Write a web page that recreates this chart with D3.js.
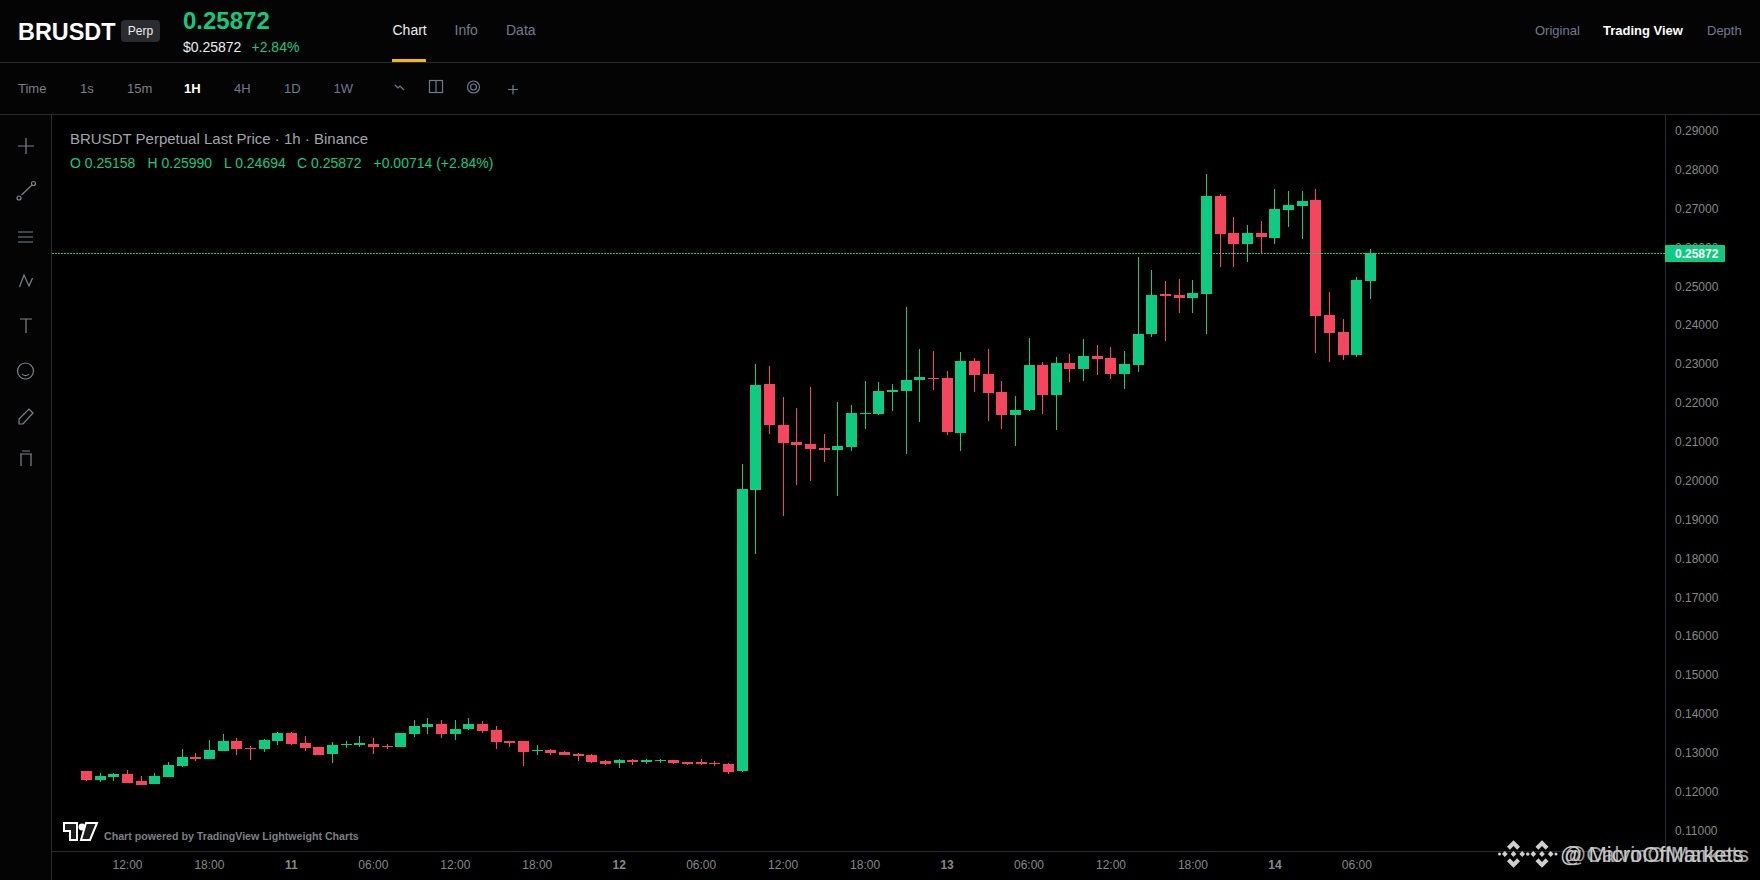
<!DOCTYPE html>
<html><head><meta charset="utf-8">
<script src="https://cdn.jsdelivr.net/npm/d3@7/dist/d3.min.js"></script>
<style>
html,body{margin:0;padding:0;background:#040405;overflow:hidden}
svg{display:block}
text{font-family:"Liberation Sans",Arial,sans-serif}
</style></head><body>
<svg id="c" width="1760" height="880"></svg>
<script>
const opens=[.12557,.12325,.12403,.12480,.12300,.12223,.12403,.12686,.12917,.12866,.13071,.13328,.13148,.13123,.13328,.13534,.13277,.13174,.12994,.13225,.13225,.13251,.13200,.13174,.13508,.13689,.13766,.13508,.13637,.13766,.13611,.13328,.13328,.13071,.13097,.13046,.12994,.12969,.12814,.12763,.12840,.12789,.12814,.12840,.12789,.12789,.12763,.12737,.12557,.19784,.22511,.21456,.21019,.20967,.20864,.20813,.20890,.21739,.21739,.22305,.22330,.22613,.22665,.22665,.21250,.23102,.22768,.22305,.21713,.21842,.22999,.22228,.23051,.22896,.23231,.23179,.22768,.22999,.23797,.24825,.24800,.24722,.24825,.27346,.26394,.26111,.26394,.26266,.26986,.27089,.27243,.24285,.23848,.23256,.25158];
const highs=[.12557,.12505,.12505,.12583,.12428,.12505,.12789,.13123,.13020,.13354,.13508,.13405,.13200,.13380,.13559,.13559,.13457,.13174,.13302,.13328,.13457,.13405,.13251,.13534,.13869,.13920,.13869,.13869,.13920,.13843,.13714,.13328,.13328,.13225,.13123,.13071,.13020,.12994,.12840,.12866,.12866,.12866,.12866,.12840,.12789,.12866,.12814,.12763,.20453,.23025,.22973,.22176,.21893,.22433,.21225,.22048,.21970,.22588,.22562,.22511,.24491,.23411,.23359,.22845,.23334,.23179,.23411,.22588,.22202,.23694,.23076,.23205,.23282,.23668,.23514,.23462,.23359,.25777,.25443,.25158,.25211,.25185,.27912,.27397,.26806,.26600,.26703,.27526,.27474,.27474,.27526,.24877,.24182,.25263,.25990];
const lows=[.12300,.12274,.12300,.12248,.12197,.12223,.12403,.12660,.12814,.12866,.13071,.12969,.12840,.13046,.13225,.13225,.13071,.12969,.12763,.13148,.13174,.12994,.13123,.13174,.13431,.13508,.13405,.13354,.13611,.13534,.13123,.13174,.12686,.12969,.12969,.12969,.12814,.12763,.12711,.12634,.12711,.12737,.12763,.12737,.12711,.12711,.12686,.12480,.12531,.18138,.21225,.19115,.19913,.20016,.20504,.19630,.20787,.21353,.21713,.21816,.20710,.21533,.22356,.21199,.20787,.22305,.21559,.21353,.20916,.21816,.21739,.21327,.22562,.22588,.22742,.22639,.22382,.22819,.23719,.23616,.24337,.24337,.23797,.25520,.25520,.25648,.25854,.26111,.26549,.26240,.23308,.23076,.23128,.23205,.24694];
const closes=[.12325,.12428,.12480,.12248,.12197,.12428,.12711,.12917,.12866,.13097,.13328,.13123,.13123,.13354,.13534,.13251,.13148,.12969,.13225,.13251,.13277,.13174,.13174,.13534,.13714,.13766,.13508,.13637,.13766,.13585,.13302,.13277,.13046,.13097,.13020,.12969,.12943,.12789,.12737,.12840,.12789,.12840,.12840,.12763,.12737,.12737,.12737,.12531,.19810,.22485,.21456,.20993,.20942,.20839,.20813,.20916,.21765,.21765,.22330,.22356,.22613,.22691,.22639,.21276,.23102,.22742,.22279,.21713,.21842,.22999,.22228,.23051,.22896,.23231,.23154,.22768,.23025,.23797,.24800,.24774,.24722,.24851,.27346,.26369,.26111,.26394,.26291,.27012,.27114,.27217,.24259,.23822,.23256,.25185,.25872];
const priceTicks=[.29,.28,.27,.26,.25,.24,.23,.22,.21,.20,.19,.18,.17,.16,.15,.14,.13,.12,.11];
const timeIndex=[3,9,15,21,27,33,39,45,51,57,63,69,75,81,87,93];
const timeLabels=["12:00","18:00","11","06:00","12:00","18:00","12","06:00","12:00","18:00","13","06:00","12:00","18:00","14","06:00"];
const lastPrice=.25872;
const GREEN="#0ecb81",RED="#f6465d",GRID="#2b2b2f",AXIS="#878787";

const svg=d3.select("#c");
svg.append("rect").attr("x",0).attr("y",0).attr("width",1760).attr("height",880).attr("fill","#040405");
svg.append("rect").attr("x",52).attr("y",115).attr("width",1708).attr("height",765).attr("fill","#000");

const xs=d3.scaleLinear().domain([0,opens.length-1]).range([86,1370]);
const ys=d3.scaleLinear().domain([.11,.29]).range([831.52,131.68]);

// frame
const line=(x1,y1,x2,y2,c)=>svg.append("line").attr("x1",x1).attr("y1",y1).attr("x2",x2).attr("y2",y2).attr("stroke",c||GRID).attr("shape-rendering","crispEdges");
line(0,62.5,1760,62.5);line(0,114.5,1760,114.5);line(51.5,115,51.5,880);line(52,851.5,1665,851.5);line(1665.5,115,1665.5,851);

// axes
const yAxis=d3.axisRight(ys).tickValues(priceTicks).tickFormat(d3.format(".5f")).tickSize(0).tickPadding(10);
const gy=svg.append("g").attr("transform","translate(1665,-1)").call(yAxis);
gy.select(".domain").remove();
gy.selectAll("text").attr("font-family",'"Liberation Sans",Arial,sans-serif').attr("font-size",12).attr("fill",AXIS);
const xAxis=d3.axisBottom(xs).tickValues(timeIndex).tickFormat((d,i)=>timeLabels[i]).tickSize(0).tickPadding(9);
const gx=svg.append("g").attr("transform","translate(0,851)").call(xAxis);
gx.select(".domain").remove();
gx.selectAll("text").attr("font-family",'"Liberation Sans",Arial,sans-serif').attr("font-size",12).attr("fill",AXIS)
  .attr("font-weight",(d,i)=>timeLabels[i].length<3?"bold":null);

// candles
const idx=d3.range(opens.length);
const col=i=>closes[i]>=opens[i]?GREEN:RED;
const gc=svg.append("g").attr("shape-rendering","crispEdges");
gc.selectAll(".w").data(idx).join("rect").attr("class","w")
  .attr("x",i=>Math.round(xs(i))).attr("width",1)
  .attr("y",i=>Math.round(ys(highs[i]))).attr("height",i=>Math.round(ys(lows[i]))-Math.round(ys(highs[i])))
  .attr("fill",col);
gc.selectAll(".b").data(idx).join("rect").attr("class","b")
  .attr("x",i=>Math.round(xs(i))-5).attr("width",11)
  .attr("y",i=>Math.round(ys(Math.max(opens[i],closes[i]))))
  .attr("height",i=>Math.max(1,Math.round(ys(Math.min(opens[i],closes[i])))-Math.round(ys(Math.max(opens[i],closes[i])))))
  .attr("fill",col);

// last price line and tag
const py=Math.floor(ys(lastPrice))+.5;
svg.append("line").attr("x1",52).attr("x2",1665).attr("y1",py).attr("y2",py)
  .attr("stroke",GREEN).attr("stroke-dasharray","2 1").attr("shape-rendering","crispEdges");
svg.append("path").attr("d",`M1665 ${py-8.5}h59a1 1 0 0 1 1 1v15a1 1 0 0 1 -1 1h-59z`).attr("fill",GREEN);

const T=(x,y,s,size,fill,weight,anchor)=>svg.append("text").attr("x",x).attr("y",y).attr("font-size",size).attr("fill",fill)
  .attr("font-weight",weight||null).attr("text-anchor",anchor||null).text(s);
T(1675,py+4.2,d3.format(".5f")(lastPrice),12,"#fff","bold");

// header
T(18,40,"BRUSDT",23.4,"#fff","bold");
svg.append("rect").attr("x",121).attr("y",20).attr("width",39).attr("height",22).attr("rx",4).attr("fill","#2b2c30");
T(140.5,35,"Perp",12,"#eaecef",null,"middle");
T(183,29,"0.25872",24,GREEN,"bold");
T(183,52,"$0.25872",14,"#eaecef");
T(251.5,52,"+2.84%",14,GREEN);
T(392.5,35,"Chart",14,"#eaecef");
svg.append("rect").attr("x",392).attr("y",59).attr("width",34).attr("height",3).attr("fill","#f0b90b");
T(454.5,35,"Info",14,"#6f7b8f");
T(506,35,"Data",14,"#6f7b8f");
T(1535,35,"Original",13,"#6f7b8f");
T(1603,35,"Trading View",13,"#fff","bold");
T(1707,35,"Depth",13,"#6f7b8f");

// time row
T(18,93,"Time",13,"#7c8088");
T(80,93,"1s",13,"#7c8088");
T(127,93,"15m",13,"#7c8088");
T(184,93,"1H",13,"#fff","bold");
T(234,93,"4H",13,"#6f7b8f");
T(284,93,"1D",13,"#6f7b8f");
T(333.5,93,"1W",13,"#6f7b8f");

// legend
T(70,144,"BRUSDT Perpetual Last Price · 1h · Binance",15,"#a3a6ab");
T(70,168,"O 0.25158",14,GREEN);
T(147.5,168,"H 0.25990",14,GREEN);
T(224,168,"L 0.24694",14,GREEN);
T(297,168,"C 0.25872",14,GREEN);
T(373.5,168,"+0.00714 (+2.84%)",14,GREEN);

// attribution
T(104,840,"Chart powered by TradingView Lightweight Charts",10.65,"#7c7f85","bold");
const logo=svg.append("g").attr("fill","#1c1c1e").attr("stroke","#fff").attr("stroke-width",2);
logo.append("path").attr("d","M64 823H77V840H70V831H64Z");
logo.append("circle").attr("cx",82).attr("cy",827).attr("r",2.4).attr("fill","#fff");
logo.append("path").attr("d","M86 823H97L90 840H81Z");

// toolbar icons
const ic=svg.append("g").attr("fill","none").attr("stroke","#7f8389").attr("stroke-width",1.2);
const P=d=>ic.append("path").attr("d",d);
P("M18 146H34M26 138V154");
P("M21.5 195L32 185");ic.append("circle").attr("cx",19).attr("cy",198).attr("r",2);ic.append("circle").attr("cx",33.5).attr("cy",183.5).attr("r",2);
P("M18 232H33M18 237H33M18 242H33");
P("M19.5 287L24 275L29 286L32.5 278");
P("M20 319H32M26 319V333");
ic.append("circle").attr("cx",25.5).attr("cy",371).attr("r",8);P("M22 374a4 3 0 0 0 7 0");
P("M19 424V419L29 409L33 413L23 424Z");
P("M20 454H32M22 451H30M21 454V466M31 454V466");
// top row icons
const ic2=svg.append("g").attr("fill","none").attr("stroke","#6f7b8f").attr("stroke-width",1.2);
ic2.append("path").attr("d","M395 85L398 88L400 86L404 90");
ic2.append("rect").attr("x",429.5).attr("y",80.5).attr("width",13).attr("height",12);
ic2.append("path").attr("d","M436 81V93");
ic2.append("circle").attr("cx",473.5).attr("cy",87).attr("r",6);ic2.append("circle").attr("cx",473.5).attr("cy",87).attr("r",3);
ic2.append("path").attr("d","M508 89.5H518M513 85V94.5");

// watermark
const wm=svg.append("g").attr("fill","#cfcfcf");
[1513.5,1542].forEach(cx=>{
  wm.append("g").attr("transform",`translate(${cx},854) scale(1.45)`).append("path")
    .attr("d","M0 -9.5l4.5 4.5l-2 2l-2.5 -2.5l-2.5 2.5l-2 -2z M0 9.5l-4.5 -4.5l2 -2l2.5 2.5l2.5 -2.5l2 2z M-8 0l2 -2l2 2l-2 2z M8 0l-2 -2l-2 2l2 2z M0 -2l2 2l-2 2l-2 -2z");
  wm.append("circle").attr("cx",cx-14).attr("cy",854).attr("r",1.5);
  wm.append("circle").attr("cx",cx+14).attr("cy",854).attr("r",1.5);
});
T(1560,862,"@ MicroOfMarkets",22,"#c8c8c8");
T(1564,862,"@CalvinOfMarkets",22,"#c8c8c8").attr("opacity",.8);
</script>
</body></html>
